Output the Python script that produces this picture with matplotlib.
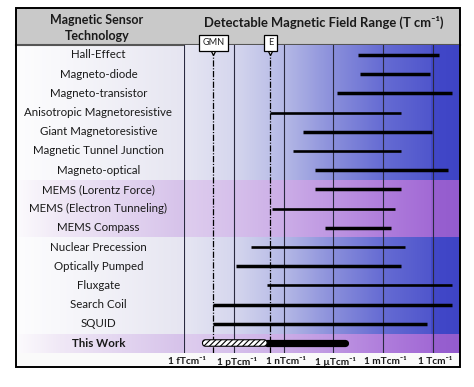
import matplotlib
matplotlib.use('Agg')
import matplotlib.pyplot as plt
import numpy as np
from matplotlib.patches import Rectangle, FancyBboxPatch
from matplotlib.transforms import ScaledTranslation

plt.rcParams['font.family'] = ['Lato', 'DejaVu Sans']
plt.rcParams['hatch.linewidth'] = 0.8

# sensor technologies, top to bottom
sensors = ['Hall-Effect', 'Magneto-diode', 'Magneto-transistor',
           'Anisotropic Magnetoresistive', 'Giant Magnetoresistive',
           'Magnetic Tunnel Junction', 'Magneto-optical',
           'MEMS (Lorentz Force)', 'MEMS (Electron Tunneling)', 'MEMS Compass',
           'Nuclear Precession', 'Optically Pumped', 'Fluxgate',
           'Search Coil', 'SQUID']
# detectable range, log10 of T/cm
range_lo = [-4.5, -4.4, -5.8, -9.8, -7.85, -8.45, -7.1, -7.1, -9.7, -6.5,
            -11.0, -11.9, -10.0, -13.25, -13.25]
range_hi = [0.4, -0.15, 1.15, -1.9, -0.05, -1.9, 0.9, -1.9, -2.3, -2.5,
            -1.65, -1.9, 1.15, 1.15, -0.35]
this_work_hatched = (-14.1, -10.0)
this_work_solid = (-10.0, -5.3)
marker_lines = {'GMN': -13.25, 'E': -9.8}

tick_vals = [1e-15, 1e-12, 1e-9, 1e-6, 1e-3, 1]
tick_labels = ['1 fTcm⁻¹', '1 pTcm⁻¹', '1 nTcm⁻¹', '1 µTcm⁻¹', '1 mTcm⁻¹', '1 Tcm⁻¹']

thin_rows = [3, 5, 8, 10, 12]
band_rows = [7, 8, 9, 15]
n_rows = len(sensors) + 1

W, H = 474, 387
fig = plt.figure(figsize=(W / 100, H / 100), dpi=100)
fig.patch.set_facecolor('white')

# layout in pixels
L, R, T, B = 16, 460, 8, 367
PL, PT, PB = 184, 45.4, 352.6

# background axes in pixel coords
bg = fig.add_axes([0, 0, 1, 1])
bg.set_xlim(0, W)
bg.set_ylim(H, 0)
bg.axis('off')
bg.add_patch(Rectangle((L, T), R - L, PT - T, facecolor='#c9c9c9', edgecolor='none'))
bg.plot([L, R], [PT, PT], color='#555555', lw=1.5)
bg.add_patch(Rectangle((L, PB), R - L, B - PB, facecolor='#fafafa', edgecolor='none'))


def grad(xs, anchors_x, anchors_c):
    c = np.array(anchors_c, dtype=float) / 255
    return np.stack([np.interp(xs, anchors_x, c[:, k]) for k in range(3)], axis=-1)


# label column gradient
xs = np.linspace(L, PL, 300)
lab_plain = grad(xs, [L, 60, PL], [(253, 253, 254), (248, 248, 251), (230, 229, 241)])
lab_band = grad(xs, [L, 60, PL], [(252, 251, 253), (240, 232, 246), (214, 194, 234)])
img = np.array([lab_band if r in band_rows else lab_plain for r in range(n_rows)])
bg.imshow(img, extent=(L, PL, PB, PT), aspect='auto', interpolation='nearest',
          origin='upper', zorder=0)

bg.text(97, 19.5, 'Magnetic Sensor', ha='center', va='center', fontsize=9,
        fontweight='bold', color='#1a1a1a')
bg.text(97, 36, 'Technology', ha='center', va='center', fontsize=9,
        fontweight='bold', color='#1a1a1a')
bg.text(324, 22, 'Detectable Magnetic Field Range (T cm⁻¹)', ha='center',
        va='center', fontsize=9.4, fontweight='bold', color='#1a1a1a')

# main axes
ax = fig.add_axes([PL / W, 1 - PB / H, (R - PL) / W, (PB - PT) / H])
ax.set_xscale('log')
ax.set_xlim(10 ** -15.02, 10 ** 1.65)
ax.set_ylim(n_rows - 0.5, -0.5)
for s in ax.spines.values():
    s.set_visible(False)

xs = np.linspace(PL, R, 500)
blue = grad(xs, [PL, 233, 283, 333, 382, 431, 432, R],
            [(230, 230, 242), (214, 215, 238), (182, 186, 230), (138, 143, 219),
             (102, 108, 211), (80, 86, 204), (66, 72, 200), (62, 68, 198)])
purple = grad(xs, [PL, 233, 283, 333, 382, 431, 432, R],
              [(222, 205, 238), (214, 192, 235), (204, 174, 231), (190, 150, 226),
               (176, 126, 220), (162, 106, 213), (152, 96, 208), (148, 92, 206)])
img = np.array([purple if r in band_rows else blue for r in range(n_rows)])
ax.imshow(img, extent=(0, 1, 0, 1), transform=ax.transAxes, aspect='auto',
          interpolation='nearest', origin='upper', zorder=0)

for v in tick_vals:
    ax.axvline(v, color='#2a2a40', lw=0.8, zorder=1)

for name, v in marker_lines.items():
    ax.axvline(10 ** v, ymin=0, ymax=0.985, color='black', lw=0.9,
               linestyle=(0, (5, 1.3, 0.9, 1.3)), zorder=2)
    ax.plot([10 ** v], [1.0 - 4.5 / (PB - PT)], marker='v', markersize=6.5,
            markerfacecolor='white', markeredgecolor='black', markeredgewidth=0.9,
            transform=ax.get_xaxis_transform(), clip_on=False, zorder=5)
    ax.text(10 ** v, 1.0 + 2.6 / (PB - PT), name, transform=ax.get_xaxis_transform(),
            ha='center', va='center', fontsize=6.6, color='#222222', clip_on=False,
            bbox=dict(boxstyle='square,pad=0.4', facecolor='white',
                      edgecolor='black', lw=0.9), zorder=6)

for i, (lo, hi) in enumerate(zip(range_lo, range_hi)):
    lw = 1.9 if i in thin_rows else 2.5
    ax.plot([10 ** lo, 10 ** hi], [i, i], color='black', lw=lw,
            solid_capstyle='butt', zorder=3)

# this work
tw = n_rows - 1
ax.plot([10 ** this_work_solid[0], 10 ** this_work_solid[1]], [tw, tw], color='black',
        lw=5.2, solid_capstyle='round', zorder=3)
fig.canvas.draw()
x0, y0 = ax.transData.transform((10 ** this_work_hatched[0], tw))
x1, _ = ax.transData.transform((10 ** this_work_hatched[1], tw))
h = 6.5
ax.add_patch(FancyBboxPatch((x0 + h / 2, y0 - h / 2), x1 - x0 - h / 2, h,
                            boxstyle='round,pad=0,rounding_size=%f' % (h / 2),
                            transform=None, facecolor='white', edgecolor='black',
                            hatch='//////', lw=0.8, zorder=4))

for i, name in enumerate(sensors + ['This Work']):
    ax.text(-0.31, i, name, transform=ax.get_yaxis_transform(), ha='center',
            va='center', fontsize=8.3, color='#1a1a1a',
            fontweight='bold' if name == 'This Work' else 'normal')

ax.set_yticks([])
ax.set_xticks(tick_vals)
ax.set_xticklabels(tick_labels, fontsize=7.2, fontweight='bold', color='#1a1a1a')
ax.minorticks_off()
ax.tick_params(axis='x', length=0, pad=3.4)
for lab in ax.get_xticklabels():
    lab.set_transform(lab.get_transform() + ScaledTranslation(2.5 / 100, 0, fig.dpi_scale_trans))

fig.add_artist(Rectangle((L / W, 1 - B / H), (R - L) / W, (B - T) / H,
                         transform=fig.transFigure, fill=False, edgecolor='black',
                         lw=1.4, zorder=10))

fig.savefig('out.png', dpi=100)
